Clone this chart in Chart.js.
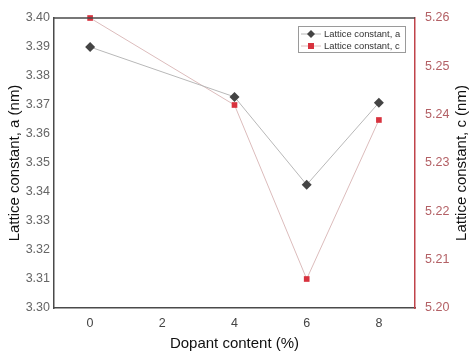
<!DOCTYPE html>
<html><head><meta charset="utf-8">
<script src="https://cdn.jsdelivr.net/npm/chart.js@4/dist/chart.umd.min.js"></script>
<style>html,body{margin:0;padding:0;background:#fff}#wrap{width:474px;height:355px}</style>
</head><body><div id="wrap"><canvas id="c" width="474" height="355"></canvas></div>
<script>
const dopant = [0, 4, 6, 8];
const latticeA = [3.390, 3.3728, 3.3425, 3.3708];
const latticeC = [5.260, 5.242, 5.206, 5.2389];
const xTicks = [0, 2, 4, 6, 8];
const aTicks = [3.30, 3.31, 3.32, 3.33, 3.34, 3.35, 3.36, 3.37, 3.38, 3.39, 3.40];
const cTicks = [5.20, 5.21, 5.22, 5.23, 5.24, 5.25, 5.26];
const labelA = 'Lattice constant, a';
const labelC = 'Lattice constant, c';
const titleA = 'Lattice constant, a (nm)';
const titleC = 'Lattice constant, c (nm)';
const titleX = 'Dopant content (%)';

const FONT = "'Liberation Sans', Arial, sans-serif";
const RED = '#c0434a';

const extras = {
  id: 'extras',
  afterDraw(chart) {
    const ctx = chart.ctx, a = chart.chartArea;
    ctx.save();
    ctx.strokeStyle = '#4a4a4a'; ctx.lineWidth = 1.5;
    ctx.beginPath(); ctx.moveTo(a.left, a.top); ctx.lineTo(a.right, a.top); ctx.stroke();
    ctx.fillStyle = '#111';
    ctx.font = '15px ' + FONT;
    ctx.textAlign = 'center'; ctx.textBaseline = 'middle';
    ctx.save(); ctx.translate(15, 163); ctx.rotate(-Math.PI / 2); ctx.fillText(titleA, 0, 0); ctx.restore();
    ctx.save(); ctx.translate(462, 163); ctx.rotate(-Math.PI / 2); ctx.fillText(titleC, 0, 0); ctx.restore();
    ctx.fillText(titleX, (a.left + a.right) / 2, 344);
    const bx = 298, by = 26, bw = 107, bh = 26;
    ctx.fillStyle = '#fff'; ctx.fillRect(bx, by, bw, bh);
    ctx.strokeStyle = '#9a9a9a'; ctx.lineWidth = 1;
    ctx.strokeRect(bx + 0.5, by + 0.5, bw, bh);
    ctx.font = '9.4px ' + FONT; ctx.textAlign = 'left'; ctx.textBaseline = 'middle';
    chart.data.datasets.forEach((ds, i) => {
      const y = by + 8 + i * 12;
      ctx.strokeStyle = ds.borderColor; ctx.lineWidth = 1;
      ctx.beginPath(); ctx.moveTo(bx + 3, y); ctx.lineTo(bx + 23, y); ctx.stroke();
      ctx.fillStyle = ds.pointBackgroundColor;
      if (ds.pointStyle === 'rectRot') {
        ctx.beginPath(); ctx.moveTo(bx + 13, y - 4); ctx.lineTo(bx + 17, y); ctx.lineTo(bx + 13, y + 4); ctx.lineTo(bx + 9, y); ctx.closePath(); ctx.fill();
      } else {
        ctx.fillRect(bx + 10, y - 3, 6, 6);
      }
      ctx.fillStyle = '#333';
      ctx.fillText(ds.label, bx + 26, y + 0.5);
    });
    ctx.restore();
  }
};

new Chart(document.getElementById('c'), {
  type: 'line',
  data: {
    datasets: [
      { label: labelA, data: dopant.map((x, i) => ({ x, y: latticeA[i] })), yAxisID: 'y',
        borderColor: '#b8b8b8', borderWidth: 1, pointStyle: 'rectRot', pointRadius: 5,
        pointBackgroundColor: '#444', pointBorderColor: '#444', pointBorderWidth: 0, clip: false },
      { label: labelC, data: dopant.map((x, i) => ({ x, y: latticeC[i] })), yAxisID: 'y1',
        borderColor: '#dcbcbc', borderWidth: 1, pointStyle: 'rect', pointRadius: 4,
        pointBackgroundColor: '#d8323e', pointBorderColor: '#d8323e', pointBorderWidth: 0, clip: false }
    ]
  },
  options: {
    responsive: false, animation: false, events: [],
    layout: { padding: { top: 18, left: 0, right: 0, bottom: 0 } },
    plugins: { legend: { display: false }, tooltip: { enabled: false } },
    scales: {
      x: {
        type: 'linear', min: -1, max: 9,
        afterBuildTicks: s => { s.ticks = xTicks.map(v => ({ value: v })); },
        afterFit: s => { s.height = 47; },
        grid: { display: false, drawTicks: false },
        border: { display: true, color: '#4a4a4a', width: 1.5 },
        ticks: { color: '#444', font: { family: FONT, size: 12.5 }, padding: 8 }
      },
      y: {
        position: 'left', min: 3.30, max: 3.40,
        afterBuildTicks: s => { s.ticks = aTicks.map(v => ({ value: v })); },
        afterFit: s => { s.width = 54; },
        grid: { display: false, drawTicks: false },
        border: { display: true, color: '#4a4a4a', width: 1.5 },
        ticks: { color: '#666', font: { family: FONT, size: 12.5 }, padding: 4, callback: v => v.toFixed(2) }
      },
      y1: {
        position: 'right', min: 5.20, max: 5.26,
        afterBuildTicks: s => { s.ticks = cTicks.map(v => ({ value: v })); },
        afterFit: s => { s.width = 59; },
        grid: { display: false, drawTicks: false },
        border: { display: true, color: RED, width: 1.5 },
        ticks: { color: '#b36065', font: { family: FONT, size: 12.5 }, padding: 10, callback: v => v.toFixed(2) }
      }
    }
  },
  plugins: [extras]
});
</script></body></html>
